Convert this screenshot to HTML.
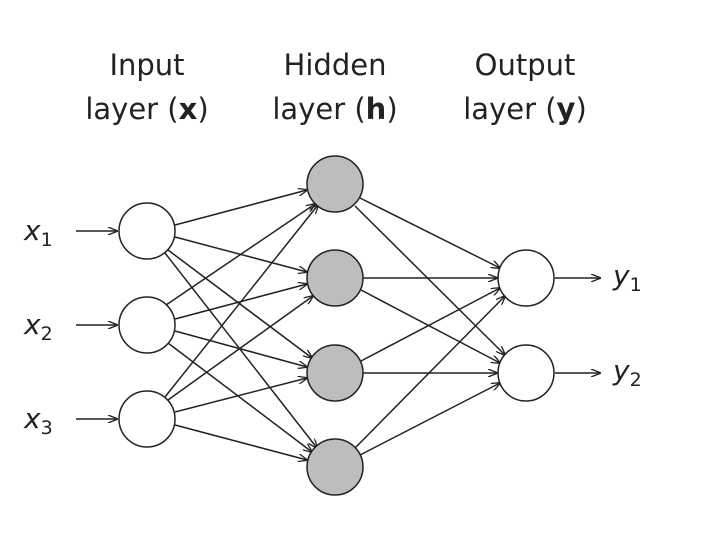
<!DOCTYPE html>
<html><head><style>body{margin:0;background:#fff}</style></head><body>
<svg width="705" height="552" xmlns="http://www.w3.org/2000/svg" font-family="DejaVu Sans, Liberation Sans, sans-serif">
<defs><marker id="a" markerWidth="10" markerHeight="8" refX="9" refY="4" orient="auto" markerUnits="userSpaceOnUse"><path d="M0,0 L10,4 L0,8" fill="none" stroke="#222" stroke-width="1.3"/></marker></defs>
<g font-size="29" fill="#222" text-anchor="middle">
<text x="147" y="75">Input</text><text x="147" y="119">layer (<tspan font-weight="bold">x</tspan>)</text>
<text x="335" y="75">Hidden</text><text x="335" y="119">layer (<tspan font-weight="bold">h</tspan>)</text>
<text x="525" y="75">Output</text><text x="525" y="119">layer (<tspan font-weight="bold">y</tspan>)</text>
</g>
<g stroke="#222" stroke-width="1.5" marker-end="url(#a)">
<line x1="76" y1="231" x2="117" y2="231"/><line x1="76" y1="325" x2="117" y2="325"/><line x1="76" y1="419" x2="117" y2="419"/>
<line x1="555" y1="278" x2="600" y2="278"/><line x1="555" y1="373" x2="600" y2="373"/>
<!-- input to hidden -->
<line x1="175" y1="225" x2="307" y2="190"/><line x1="175" y1="237" x2="307" y2="272"/><line x1="168" y1="250" x2="312" y2="358"/><line x1="165" y1="253" x2="317" y2="448"/>
<line x1="166" y1="305" x2="315" y2="204"/><line x1="175" y1="319" x2="307" y2="284"/><line x1="175" y1="331" x2="307" y2="367"/><line x1="168" y1="343" x2="312" y2="452"/>
<line x1="165" y1="397" x2="318" y2="205"/><line x1="168" y1="400" x2="313" y2="296"/><line x1="175" y1="412" x2="307" y2="378"/><line x1="175" y1="425" x2="307" y2="460"/>
<!-- hidden to output -->
<line x1="360" y1="198" x2="500" y2="268"/><line x1="355" y1="206" x2="505" y2="355"/>
<line x1="363" y1="278" x2="497" y2="278"/><line x1="361" y1="290" x2="500" y2="363"/>
<line x1="361" y1="361" x2="500" y2="288"/><line x1="363" y1="373" x2="497" y2="373"/>
<line x1="355" y1="448" x2="505" y2="296"/><line x1="360" y1="455" x2="500" y2="383"/>
</g>
<g stroke="#222" stroke-width="1.5">
<circle cx="147" cy="231" r="28" fill="#fff"/><circle cx="147" cy="325" r="28" fill="#fff"/><circle cx="147" cy="419" r="28" fill="#fff"/>
<circle cx="335" cy="184" r="28" fill="#bdbdbd"/><circle cx="335" cy="278" r="28" fill="#bdbdbd"/><circle cx="335" cy="373" r="28" fill="#bdbdbd"/><circle cx="335" cy="467" r="28" fill="#bdbdbd"/>
<circle cx="526" cy="278" r="28" fill="#fff"/><circle cx="526" cy="373" r="28" fill="#fff"/>
</g>
<g font-size="28" fill="#222" font-style="italic">
<text x="24" y="240">x<tspan font-size="19" font-style="normal" dy="6">1</tspan></text>
<text x="24" y="334">x<tspan font-size="19" font-style="normal" dy="6">2</tspan></text>
<text x="24" y="428">x<tspan font-size="19" font-style="normal" dy="6">3</tspan></text>
<text x="613" y="285">y<tspan font-size="19" font-style="normal" dy="6">1</tspan></text>
<text x="613" y="380">y<tspan font-size="19" font-style="normal" dy="6">2</tspan></text>
</g>
</svg>
</body></html>
